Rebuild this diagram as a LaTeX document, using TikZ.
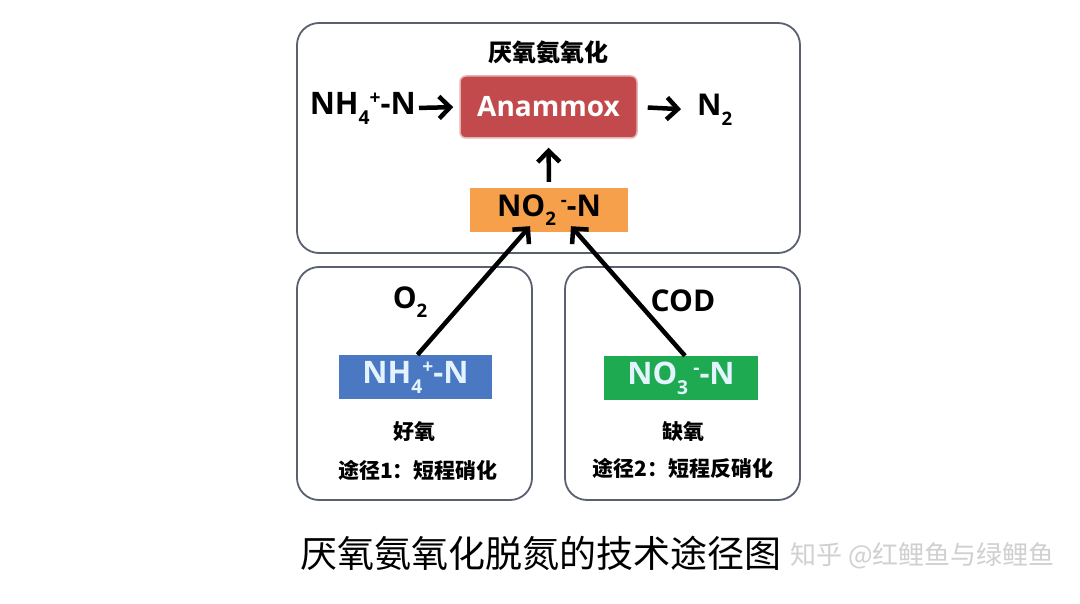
\documentclass[tikz,border=0pt]{standalone}
\usepackage{fontspec}
\setmainfont{Open Sans}
\newfontfamily\cjk{Noto Sans CJK SC}
\usetikzlibrary{arrows.meta,calc}
\definecolor{frame}{HTML}{5A6070}
\definecolor{anred}{HTML}{C24A4D}
\definecolor{anedge}{HTML}{E6B3B3}
\definecolor{orng}{HTML}{F6A04C}
\definecolor{blu}{HTML}{4A78C2}
\definecolor{grn}{HTML}{1EAA50}
\definecolor{lighttxt}{HTML}{E4F4FF}
\definecolor{wmark}{HTML}{D0D0D0}
\newcommand{\dn}[1]{\raisebox{-0.32em}{\scalebox{0.62}{#1}}}
\newcommand{\up}[1]{\raisebox{0.32em}{\scalebox{0.62}{#1}}}
\newcommand{\fs}[1]{\fontsize{#1}{#1}\selectfont}
\tikzset{
  panel/.style={draw=frame, line width=1.8pt, rounded corners=22pt, fill=white},
  chem/.style={font=\fs{30}\bfseries, inner sep=0pt},
  cjklab/.style={font=\cjk\bfseries\fs{21}, inner sep=0pt},
  flow/.style={line width=4.5pt, -{Straight Barb[length=11pt,width=22pt,line width=4.5pt]}},
}
\begin{document}
\begin{tikzpicture}[x=1pt,y=-1pt]
\useasboundingbox[fill=white] (0,0) rectangle (1080,604);
% panels
\draw[panel] (297,23) rectangle (800,253);
\draw[panel] (297,267) rectangle (532,500);
\draw[panel] (565,267) rectangle (800,500);
% top panel
\node[font=\cjk\bfseries\fs{24}, inner sep=0pt] (title) at (548,52) {厌氧氨氧化};
\node[draw=anedge, line width=1.5pt, fill=anred, rounded corners=6pt, minimum width=177pt, minimum height=62pt, inner sep=0pt, text=white, font=\fs{28}\bfseries] (anam) at (548.5,107) {Anammox};
\node[chem, font=\fs{31}\bfseries, anchor=east] (nh4t) at (416,108) {NH\dn{4}\up{+}-N};
\node[chem, anchor=west] (n2) at (697,110) {N\dn{2}};
\node[fill=orng, minimum width=158pt, minimum height=44pt, inner sep=0pt, font=\fs{30}\bfseries] (no2) at (549,210) {NO\dn{2}\,\up{-}-N};
\draw[flow, shorten <=3pt, shorten >=6pt] (nh4t.east) -- (anam.west);
\draw[flow, shorten <=10pt, shorten >=16pt] (anam.east) -- (n2.west);
\draw[flow, shorten <=6pt, shorten >=9pt] (no2.north) -- (anam.south);
% bottom left
\node[fill=blu, minimum width=153pt, minimum height=44pt, inner sep=0pt, text=lighttxt, font=\fs{31}\bfseries] (nh4b) at (415.5,377) {NH\dn{4}\up{+}-N};
\node[chem] (o2) at (410,302) {O\dn{2}};
\node[cjklab] (hao) at (414,431) {好氧};
\node[cjklab] (tj1) at (418,470) {途径1：短程硝化};
% bottom right
\node[fill=grn, minimum width=154pt, minimum height=44pt, inner sep=0pt, text=lighttxt, font=\fs{31}\bfseries] (no3b) at (681,378) {NO\dn{3}\,\up{-}-N};
\node[chem] (cod) at (683,301) {COD};
\node[cjklab] (que) at (683,431) {缺氧};
\node[cjklab] (tj2) at (683,468) {途径2：短程反硝化};
% diagonal arrows
\coordinate (tipL) at ($(no2.south)+(-19,-6)$);
\coordinate (tipR) at ($(no2.south)+(22,-6)$);
\draw[flow] ([xshift=2pt]nh4b.north) -- (tipL);
\draw[flow] ([xshift=4pt]no3b.north) -- (tipR);
% caption and watermark
\node[font=\cjk\fs{37}, inner sep=0pt] (cap) at (541,553) {厌氧氨氧化脱氮的技术途径图};
\node[font=\cjk\fs{26}, inner sep=0pt, text=wmark, anchor=west] (wm) at (790,556) {知乎 @红鲤鱼与绿鲤鱼};
\end{tikzpicture}
\end{document}
